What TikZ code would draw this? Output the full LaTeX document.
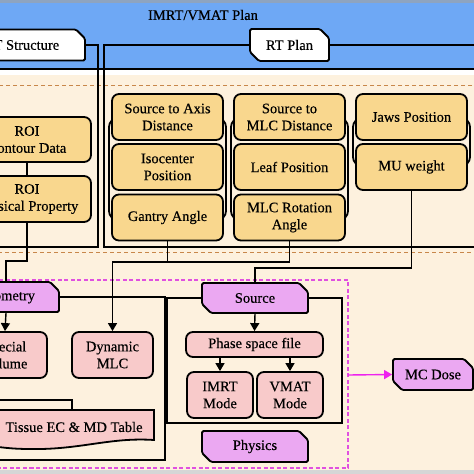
\documentclass[tikz,border=0pt]{standalone}
\usepackage{fontspec}
\setmainfont{Liberation Serif}[FakeBold=0.35]
\usetikzlibrary{arrows.meta,shapes.misc}
\definecolor{bluec}{HTML}{6EA8F5}
\definecolor{topgray}{HTML}{8EA4C0}
\definecolor{creamc}{HTML}{FDF1DE}
\definecolor{botgray}{HTML}{D6D6D6}
\definecolor{goldc}{HTML}{F9D78E}
\definecolor{pinkc}{HTML}{F8CACA}
\definecolor{magtab}{HTML}{EBA8F2}
\definecolor{magline}{HTML}{E050E0}
\definecolor{magarrow}{HTML}{EE22EE}
\definecolor{orangedash}{HTML}{C8874A}
\begin{document}
\begin{tikzpicture}[x=1pt,y=-1pt,
  txt/.style={font=\fontsize{14.5}{17}\selectfont, align=center, text=black},
  gold/.style={txt, draw, line width=1.8pt, rounded corners=7pt, fill=goldc, minimum width=111pt, minimum height=46pt, inner sep=1pt},
  pinkbox/.style={txt, draw, line width=1.8pt, rounded corners=7pt, fill=pinkc, inner sep=1pt},
  tabbox/.style={txt, chamfered rectangle, chamfered rectangle corners={north east,south west}, chamfered rectangle xsep=4.5pt, chamfered rectangle ysep=4.5pt, draw, line width=1.8pt, inner sep=1pt, rounded corners=1.5pt},
  whitetab/.style={tabbox, fill=white},
  magentatab/.style={tabbox, fill=magtab},
  boxline/.style={line width=1.6pt},
  bracket/.style={line width=1.8pt, rounded corners=9pt},
  conn/.style={line width=1.4pt},
  arr/.style={line width=1.4pt, -{Triangle[width=9pt,length=8pt]}},
]
\useasboundingbox (0,0) rectangle (474,474);
\clip (0,0) rectangle (474,474);
% background
\fill[topgray] (0,0) rectangle (474,3);
\fill[bluec] (0,3) rectangle (474,69);
\fill[white] (0,69) rectangle (474,75);
\draw[line width=1.2pt] (0,69) -- (474,69);
\fill[creamc] (0,75) rectangle (474,470);
\fill[botgray] (0,470) rectangle (474,474);
% dashed groups
\draw[orangedash, line width=1pt, dash pattern=on 4pt off 3pt] (-10,85) rectangle (484,252);
\draw[magline, line width=1.2pt, dash pattern=on 4pt off 2.5pt] (-10,280) rectangle (348,468);
% title
\node[txt] (title) at (203,15) {IMRT/VMAT Plan};
% brackets
\draw[bracket] (109,118) rectangle (226,220);
\draw[bracket] (231,118) rectangle (348,220);
\draw[bracket] (353,118) rectangle (470,166);
% tabs
\node[whitetab, minimum width=126pt, minimum height=31pt] (rts) at (22,45) {RT Structure};
\node[whitetab, minimum width=79pt, minimum height=32pt] (rtp) at (289.5,45) {RT Plan};
% box lines
\draw[boxline] (rts.east) -- (98,45) -- (98,247) -- (-10,247);
\draw[boxline] (rtp.west) -- (104,45) -- (104,247) -- (484,247);
\draw[boxline] (rtp.east) -- (484,45);
% RT structure nodes
\node[gold, minimum width=128pt, minimum height=45pt] (roic) at (27,139.5) {ROI\\Contour Data};
\node[gold, minimum width=128pt, minimum height=46pt] (roip) at (27,199) {ROI\\Physical Property};
% RT plan nodes
\node[gold] (sad) at (167.5,117) {Source to Axis\\Distance};
\node[gold] (iso) at (167.5,167) {Isocenter\\Position};
\node[gold] (gantry) at (167.5,217.5) {Gantry Angle};
\node[gold] (smd) at (289.5,117) {Source to\\MLC Distance};
\node[gold] (leaf) at (289.5,167) {Leaf Position};
\node[gold] (mlcrot) at (289.5,217.5) {MLC Rotation\\Angle};
\node[gold] (jaws) at (411.5,117) {Jaws Position};
\node[gold] (mu) at (411.5,167) {MU weight};
% geometry group
\node[magentatab, minimum width=106pt, minimum height=30pt] (geom) at (6,297) {Geometry};
\draw[boxline] (geom.east) -- (165,297) -- (165,460) -- (-10,460);
\node[pinkbox, minimum width=84pt, minimum height=46pt] (special) at (5,355) {Special\\Volume};
\node[pinkbox, minimum width=81pt, minimum height=46pt] (dynmlc) at (112.5,355) {Dynamic\\MLC};
\draw[line width=1.8pt, fill=pinkc] (-10,410) -- (154,410) -- (154,440)
   .. controls (110,437) and (80,450) .. (30,449)
   .. controls (10,449) and (0,447) .. (-10,446) -- cycle;
\node[txt, anchor=west] (tissue) at (2,427) {Tissue EC \& MD Table};
\coordinate (tisstop) at (72,410);
\coordinate (tissin) at (-10,400);
% source group
\node[magentatab, minimum width=106pt, minimum height=30pt] (source) at (255,298) {Source};
\draw[boxline] (source.east) -- (342,298) -- (342,423) -- (167,423) -- (167,298) -- (source.west);
\node[pinkbox, minimum width=137pt, minimum height=25pt] (phase) at (254.5,344.5) {Phase space file};
\node[pinkbox, minimum width=66pt, minimum height=46pt] (imrt) at (220,395) {IMRT\\Mode};
\node[pinkbox, minimum width=66pt, minimum height=46pt] (vmat) at (290,395) {VMAT\\Mode};
\node[magentatab, minimum width=106pt, minimum height=31pt] (physics) at (255,446.5) {Physics};
\node[magentatab, minimum width=80pt, minimum height=31pt] (mcdose) at (433,374.5) {MC Dose};
% connectors
\draw[conn] (roic) -- (roip);
\draw[conn] (roip.south) -- (27,261) -- (6,261) -- (geom.north);
\draw[arr] (geom.south) -- (special.north);
\draw[conn] (gantry.south) -- (167.5,262);
\draw[arr] (mlcrot.south) -- (289.5,262) -- (112.5,262) -- (dynmlc.north);
\draw[conn] (mu.south) -- (411.5,268) -- (255,268) -- (source.north);
\draw[arr] (source.south) -- (phase.north);
\draw[arr] (phase.south -| imrt.north) -- (imrt.north);
\draw[arr] (phase.south -| vmat.north) -- (vmat.north);
\draw[conn] (tissin) -- (72,400) -- (tisstop);
\coordinate (mcout) at (348,375);
\draw[magarrow, line width=1.4pt, -{Triangle[width=9pt,length=8pt]}] (mcout) -- (mcdose.west);
\end{tikzpicture}
\end{document}
